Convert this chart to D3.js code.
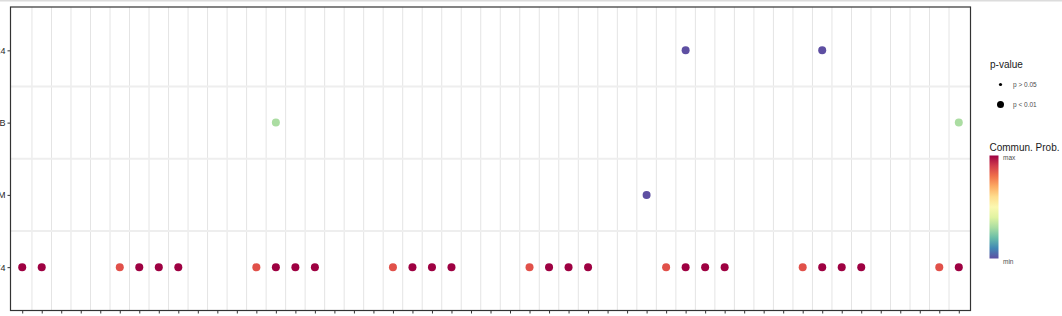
<!DOCTYPE html>
<html>
<head>
<meta charset="utf-8">
<script src="https://cdn.jsdelivr.net/npm/d3@7"></script>
<style>
  body { margin: 0; background: #fff; overflow: hidden; }
  svg { display: block; font-family: "Liberation Sans", Arial, sans-serif; }
</style>
</head>
<body>
<svg id="chart" width="1062" height="316"></svg>
<script>
// cell groups -> 7 x 7 source/target pairs on the x axis
var cellTypes = ["Endo", "Fibro", "Macro", "Mono", "Tcell", "Bcell", "Epi"];
// ligand-receptor pairs, bottom to top
var pairs = ["MIF - CD74", "PTPRM - PTPRM", "PDGFB - PDGFRB", "CXCL12 - CXCR4"];

// one entry per dot: row (pair), column (source->target index), prob, p-value class
var rowIdx = [0,0,0,0,0,0,0,0,0,0,0,0,0,0,0,0,0,0,0,0,0,0,0,0,0,0,0,0, 1, 2,2, 3,3];
var colIdx = [0,1,5,6,7,8,12,13,14,15,19,20,21,22,26,27,28,29,33,34,35,36,40,41,42,43,47,48, 32, 13,48, 34,41];
var prob   = [1,1,0.86,1,1,1,0.86,1,1,1,0.86,1,1,1,0.86,1,1,1,0.86,1,1,1,0.86,1,1,1,0.86,1, 0.01, 0.31,0.31, 0.01,0.01];
var pval   = [3,3,3,3,3,3,3,3,3,3,3,3,3,3,3,3,3,3,3,3,3,3,3,3,3,3,3,3, 3, 3,3, 3,3];

var pLabels = ["p > 0.05", "p < 0.01"];

var sourceTarget = [];
cellTypes.forEach(function(s){
    cellTypes.forEach(function(t){ sourceTarget.push(s + " -> " + t); });
});

var svg = d3.select("#chart");

var panelLeft = 10.5, panelRight = 970.5, panelTop = 7, panelBottom = 310.5;

var x = d3.scalePoint().domain(sourceTarget).range([panelLeft, panelRight]).padding(0.6);
var y = d3.scalePoint().domain(pairs).range([panelBottom, panelTop]).padding(0.6);

var pmin = d3.min(prob), pmax = d3.max(prob);
var colorScale = d3.scaleSequential(function(t){ return d3.interpolateSpectral(1 - t); })
    .domain([pmin, pmax]);
var sizeScale = d3.scaleOrdinal().domain([1, 3]).range([1.6, 4]);

// faint strip at the very top of the picture
svg.append("rect").attr("x", 0).attr("y", 0).attr("width", 1062).attr("height", 1.5).attr("fill", "#dcdcdc");

// grid lines between categories
var xs = x.step(), ys = y.step();
svg.append("g").selectAll("line")
    .data(sourceTarget.slice(0, -1))
    .enter().append("line")
    .attr("x1", function(d){ return x(d) + xs / 2; })
    .attr("x2", function(d){ return x(d) + xs / 2; })
    .attr("y1", panelTop).attr("y2", panelBottom)
    .attr("stroke", "#e4e4e4").attr("stroke-width", 1);

svg.append("g").selectAll("line")
    .data(pairs.slice(0, -1))
    .enter().append("line")
    .attr("y1", function(d){ return y(d) - ys / 2; })
    .attr("y2", function(d){ return y(d) - ys / 2; })
    .attr("x1", panelLeft).attr("x2", panelRight)
    .attr("stroke", "#eeeeee").attr("stroke-width", 2);

// axes
var yAxis = svg.append("g")
    .attr("transform", "translate(" + panelLeft + ",0)")
    .call(d3.axisLeft(y).tickSize(3).tickPadding(2));
yAxis.select(".domain").remove();
yAxis.selectAll("line").attr("stroke", "#333");
yAxis.selectAll("text").attr("fill", "#262626").style("font-size", "9px");

var xAxis = svg.append("g")
    .attr("transform", "translate(0," + panelBottom + ")")
    .call(d3.axisBottom(x).tickSize(3).tickPadding(2));
xAxis.select(".domain").remove();
xAxis.selectAll("line").attr("stroke", "#333");
xAxis.selectAll("text")
    .attr("fill", "#262626").style("font-size", "9px")
    .attr("transform", "rotate(-90)")
    .attr("text-anchor", "end")
    .attr("x", -6).attr("y", 0).attr("dy", "0.32em");

// panel border
svg.append("rect")
    .attr("x", panelLeft).attr("y", panelTop)
    .attr("width", panelRight - panelLeft).attr("height", panelBottom - panelTop)
    .attr("fill", "none").attr("stroke", "#333").attr("stroke-width", 1.2);

// dots
svg.append("g").selectAll("circle")
    .data(d3.range(prob.length))
    .enter().append("circle")
    .attr("cx", function(i){ return x(sourceTarget[colIdx[i]]); })
    .attr("cy", function(i){ return y(pairs[rowIdx[i]]); })
    .attr("r", function(i){ return sizeScale(pval[i]); })
    .attr("fill", function(i){ return colorScale(prob[i]); });

// legend: p-value
var leg = svg.append("g");
leg.append("text").attr("x", 990).attr("y", 68).text("p-value")
    .style("font-size", "10px").attr("fill", "#1a1a1a");
pLabels.forEach(function(lab, i){
    var cy = 84.5 + i * 20;
    leg.append("circle").attr("cx", 1000.5).attr("cy", cy)
        .attr("r", i === 0 ? 1.6 : 3.5).attr("fill", "#000");
    leg.append("text").attr("x", 1013).attr("y", cy + 2.5).text(lab)
        .style("font-size", "6.5px").attr("fill", "#4d4d4d");
});

// legend: colour bar
leg.append("text").attr("x", 989.5).attr("y", 151).text("Commun. Prob.")
    .style("font-size", "10px").attr("fill", "#1a1a1a");

var defs = svg.append("defs");
var grad = defs.append("linearGradient").attr("id", "probGrad")
    .attr("x1", 0).attr("y1", 1).attr("x2", 0).attr("y2", 0);
d3.range(0, 1.0001, 0.1).forEach(function(t){
    grad.append("stop").attr("offset", t).attr("stop-color", colorScale(pmin + t * (pmax - pmin)));
});
var barTop = 155.5, barBottom = 258.5;
leg.append("rect").attr("x", 989.5).attr("y", barTop).attr("width", 9)
    .attr("height", barBottom - barTop).attr("fill", "url(#probGrad)");
leg.append("text").attr("x", 1003).attr("y", barTop + 4).text("max")
    .style("font-size", "6.5px").attr("fill", "#4d4d4d");
leg.append("text").attr("x", 1003).attr("y", barBottom + 5).text("min")
    .style("font-size", "6.5px").attr("fill", "#4d4d4d");
</script>
</body>
</html>
